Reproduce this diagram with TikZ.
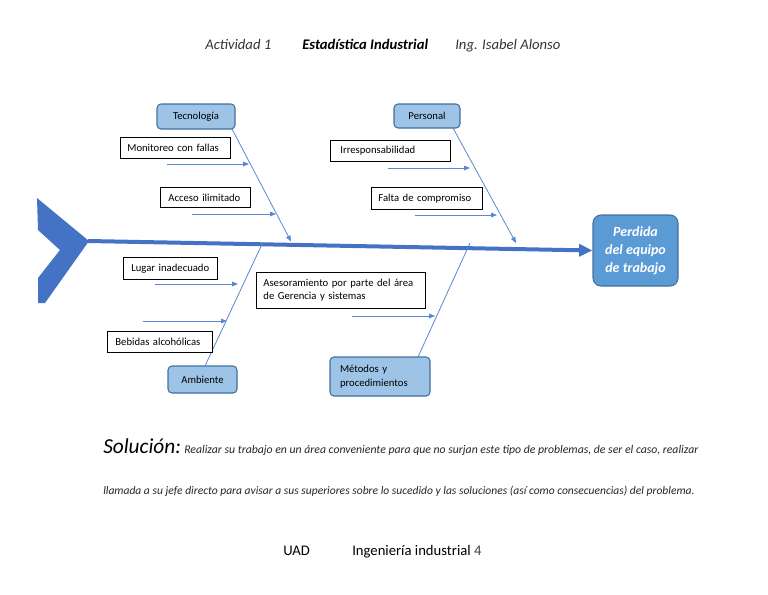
\documentclass[tikz,border=0pt]{standalone}
\usepackage{fontspec}
\setmainfont{Carlito}
\usetikzlibrary{arrows.meta}
\definecolor{spineblue}{HTML}{4472C4}
\definecolor{bonblue}{HTML}{5A86D6}
\definecolor{catfill}{HTML}{9DC3E6}
\definecolor{catdraw}{HTML}{41719C}
\definecolor{efffill}{HTML}{5B9BD5}
\begin{document}
\begin{tikzpicture}[x=0.75pt,y=-0.75pt,
  catbox/.style={draw=catdraw, fill=catfill, rounded corners=3pt, line width=0.8pt,
    font=\fontsize{8}{10}\selectfont, inner sep=0pt},
  causebox/.style={draw=black, fill=white, line width=0.6pt, anchor=north west,
    font=\fontsize{8}{10}\selectfont, align=left, inner ysep=0pt},
  bonearrow/.style={draw=bonblue, line width=0.6pt, -{Triangle[length=4.5pt,width=3.5pt]}},
  bonenoarrow/.style={draw=bonblue, line width=0.6pt},
  causearrow/.style={draw=bonblue, line width=0.6pt, -{Triangle[length=4.5pt,width=3.5pt]}},
  effbox/.style={draw=catdraw, fill=efffill, rounded corners=6pt, line width=0.8pt,
    text=white, font=\fontsize{10.5}{13.5}\selectfont\bfseries\itshape, align=center,
    minimum width=85*0.75pt, minimum height=71*0.75pt, inner sep=0pt},
  titletext/.style={anchor=base west, inner sep=0pt, font=\fontsize{11}{13}\selectfont\itshape, text=black!80},
  bodytext/.style={anchor=base west, inner sep=0pt}
]
\useasboundingbox (0,0) rectangle (768,594);

% header
\node[titletext] (t1) at (205,49) {Actividad 1};
\node[titletext, font=\fontsize{11}{13}\selectfont\bfseries\itshape, text=black] (t2) at (302,49) {Estadística Industrial};
\node[titletext] (t3) at (455,49) {Ing. Isabel Alonso};

% tail
\fill[spineblue] (37,198) -- (89,241) -- (45,303) -- (38,303) -- (38,278) -- (60,250) -- (38,230) -- cycle;

% effect
\node[effbox] (eff) at (635.5,250.5) {Perdida\\del equipo\\de trabajo};

% spine
\coordinate (tail) at (88,241);
\draw[spineblue, line width=3pt, -{Triangle[length=10pt,width=9pt]}] (tail) -- (eff.west);

% categories
\node[catbox, minimum width=78*0.75pt, minimum height=25*0.75pt] (tec) at (196,116.5) {Tecnología};
\node[catbox, minimum width=66*0.75pt, minimum height=24*0.75pt] (per) at (427,116) {Personal};
\node[catbox, minimum width=69*0.75pt, minimum height=27*0.75pt] (amb) at (202.5,379.5) {Ambiente};
\node[catbox, minimum width=100*0.75pt, minimum height=39*0.75pt, align=left, text width=80*0.75pt] (met) at (380,376.5) {Métodos y\\procedimientos};

% spine points
\coordinate (sT) at (291,241.5);
\coordinate (sP) at (516,243);
\coordinate (sA) at (263,242);
\coordinate (sM) at (470,243);
\coordinate (bT) at (232,129);
\coordinate (bP) at (453,128);
\coordinate (bA) at (205,366);
\coordinate (bM) at (418,357);

\draw[bonearrow] (bT) -- (sT);
\draw[bonearrow] (bP) -- (sP);
\draw[bonenoarrow] (bA) -- (sA);
\draw[bonenoarrow] (bM) -- (sM);

% causes
\node[causebox, inner xsep=7*0.75pt, text width=96*0.75pt, minimum height=21*0.75pt] (c1) at (120,137) {Monitoreo con fallas};
\node[causebox, inner xsep=8*0.75pt, text width=74*0.75pt, minimum height=20*0.75pt] (c2) at (160,187) {Acceso ilimitado};
\node[causebox, inner xsep=10*0.75pt, text width=100*0.75pt, minimum height=21*0.75pt] (c3) at (330,140) {Irresponsabilidad};
\node[causebox, inner xsep=7*0.75pt, text width=97*0.75pt, minimum height=22*0.75pt] (c4) at (371,187) {Falta de compromiso};
\node[causebox, inner xsep=8*0.75pt, text width=78*0.75pt, minimum height=22*0.75pt] (c5) at (123,257) {Lugar inadecuado};
\node[causebox, inner xsep=7*0.75pt, text width=155*0.75pt, minimum height=36*0.75pt] (c6) at (256,272) {Asesoramiento por parte del área\\de Gerencia y sistemas};
\node[causebox, inner xsep=8*0.75pt, text width=89*0.75pt, minimum height=21*0.75pt] (c7) at (107,331) {Bebidas alcohólicas};

% cause arrows
\coordinate (a1s) at (167,164); \coordinate (a1e) at (249,164);
\coordinate (a2s) at (192,214); \coordinate (a2e) at (276,214);
\coordinate (a3s) at (388,168); \coordinate (a3e) at (470,168);
\coordinate (a4s) at (415,215); \coordinate (a4e) at (497,215);
\coordinate (a5s) at (155,284); \coordinate (a5e) at (238,284);
\coordinate (a7s) at (143,321); \coordinate (a7e) at (227,321);
\coordinate (a6s) at (352,316); \coordinate (a6e) at (435,316);
\draw[causearrow] (a1s) -- (a1e);
\draw[causearrow] (a2s) -- (a2e);
\draw[causearrow] (a3s) -- (a3e);
\draw[causearrow] (a4s) -- (a4e);
\draw[causearrow] (a5s) -- (a5e);
\draw[causearrow] (a7s) -- (a7e);
\draw[causearrow] (a6s) -- (a6e);

% solution
\node[bodytext, font=\fontsize{16}{18}\selectfont\itshape] (sol) at (103,453) {Solución:};
\node[bodytext, font=\fontsize{8.8}{10}\selectfont\itshape, text=black!85] (sol1) at (sol.base east) {\ Realizar su trabajo en un área conveniente para que no surjan este tipo de problemas, de ser el caso, realizar};
\node[bodytext, font=\fontsize{8.65}{10}\selectfont\itshape, text=black!85] (sol2) at (103,494) {llamada a su jefe directo para avisar a sus superiores sobre lo sucedido y las soluciones (así como consecuencias) del problema.};

% footer
\node[bodytext, font=\fontsize{11}{13}\selectfont] (f1) at (283,555) {UAD};
\node[bodytext, font=\fontsize{11}{13}\selectfont] (f2) at (352,555) {Ingeniería industrial {\color{black!75}4}};
\end{tikzpicture}
\end{document}
